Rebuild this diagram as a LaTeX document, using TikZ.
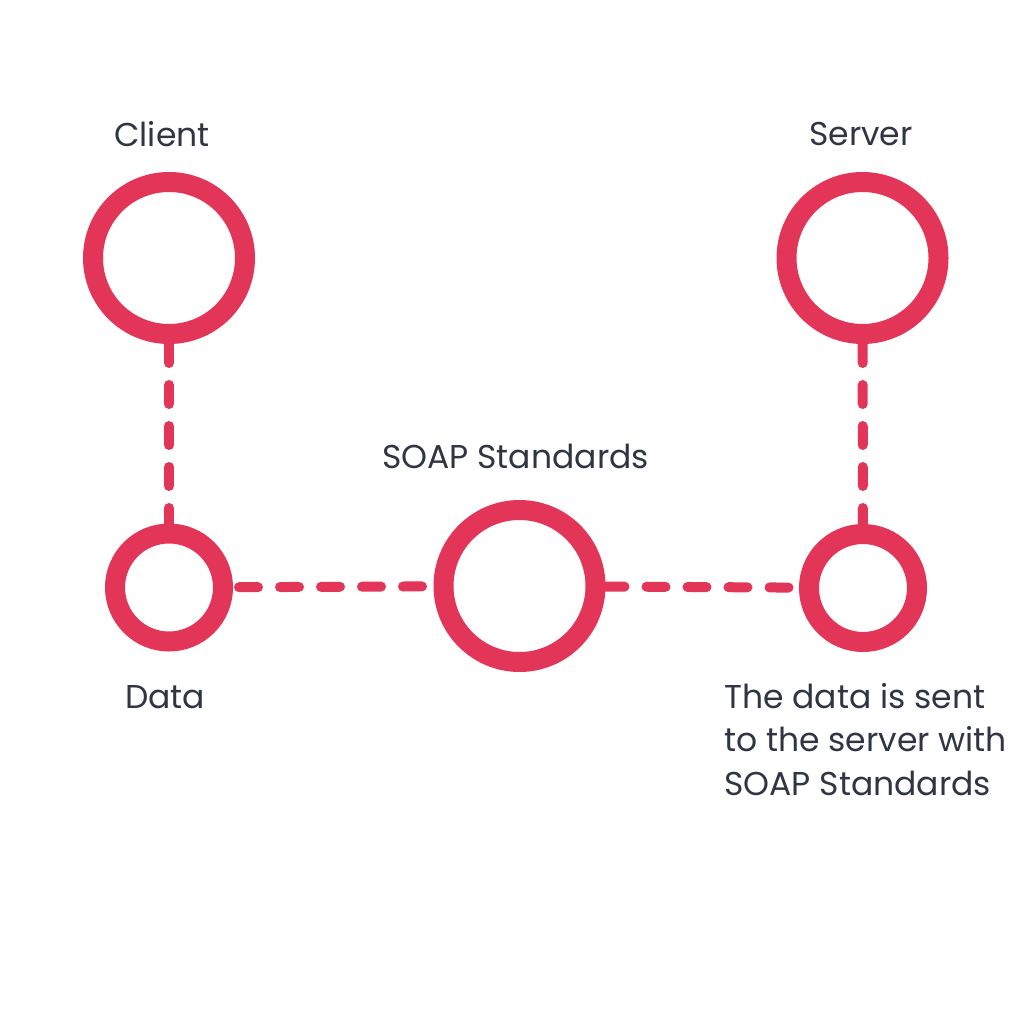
\documentclass[tikz,border=0pt]{standalone}
\usepackage{xcolor}
\usepackage{fontspec}
\setmainfont{Poppins}
\usepackage{tikz}
\usetikzlibrary{
  positioning,
  calc
}
\definecolor{rose}{HTML}{E33558}
\definecolor{ink}{HTML}{2F3542}

\begin{document}
\begin{tikzpicture}[x=1pt,y=-1pt,
  ring/.style={circle,draw=rose,line width=20pt,fill=white,inner sep=0pt},
  bigring/.style={ring,minimum size=152pt},
  smallring/.style={ring,minimum size=108pt},
  link/.style={draw=rose,line width=10pt,line cap=round,dash pattern=on 19pt off 22pt},
  lbl/.style={text=ink,inner sep=0pt,font=\fontsize{33}{43.5}\selectfont}
]
  % 画像の範囲
  \useasboundingbox (0,0) rectangle (1024,1024);

  % 円(リング)
  \node[bigring] (client) at (169,258) {};
  \node[bigring] (server) at (862.5,258) {};
  \node[smallring] (data) at (169,587.5) {};
  \node[bigring] (soap) at (519.5,586) {};
  \node[smallring] (sent) at (863,588) {};

  % 破線でつなぐ
  \draw[link] (client) -- (data);
  \draw[link,dash phase=-6pt] (data) -- (soap);
  \draw[link] (soap) -- (sent);
  \draw[link] (server) -- (sent);

  % ラベル
  \node[lbl,anchor=base] (lblClient) at (162,147) {Client};
  \node[lbl,anchor=base] (lblServer) at (861,146) {Server};
  \node[lbl,anchor=base] (lblSoap) at (515.5,468) {SOAP Standards};
  \node[lbl,anchor=base] (lblData) at (165,708) {Data};
  \node[lbl,anchor=base west,align=left] (lblSent) at (724,795)
    {The data is sent\\to the server with\\SOAP Standards};
\end{tikzpicture}
\end{document}
